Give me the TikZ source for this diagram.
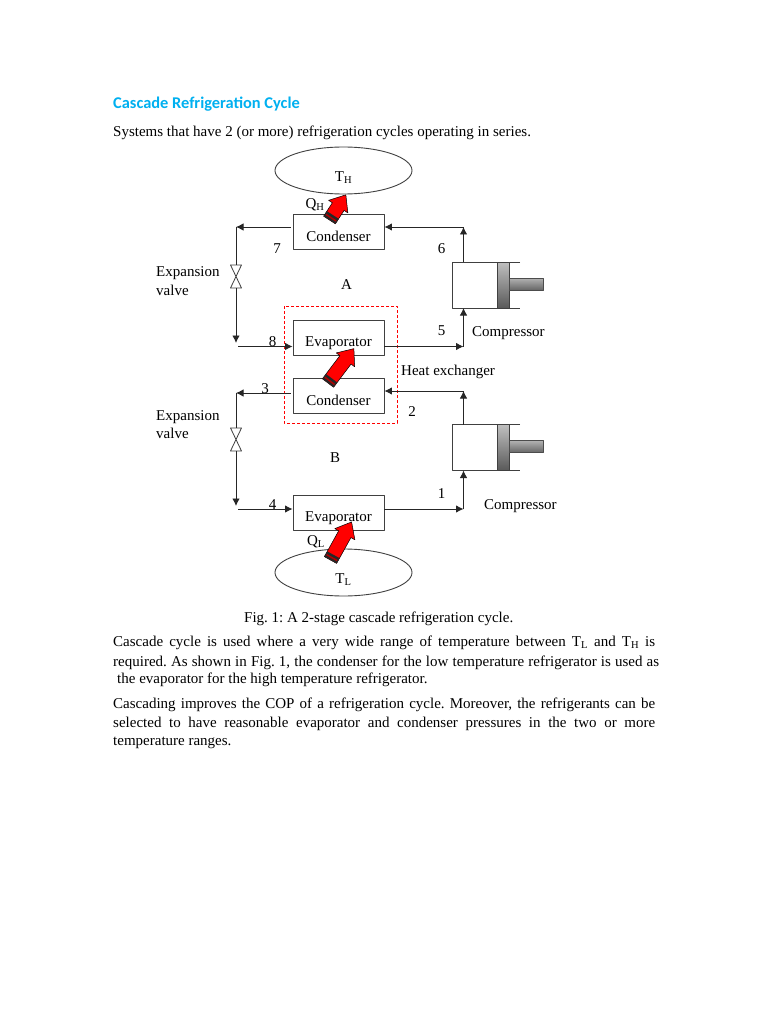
\documentclass[tikz,border=0pt]{standalone}
\usepackage{fontspec}
\usetikzlibrary{shapes.geometric, arrows.meta}
\setmainfont{Liberation Serif}
\newfontfamily\titlefont{Carlito}
\definecolor{titleblue}{HTML}{00B0F0}
\newcommand{\fitline}[2]{\hbox to #1pt{#2}}
\tikzset{
	bodyline/.style={anchor=base west, inner sep=0pt, font=\frenchspacing\fontsize{15}{18}\selectfont},
	lbl/.style={inner sep=0pt, font=\fontsize{15}{18}\selectfont},
	lblw/.style={lbl, anchor=base west},
	lblb/.style={lbl, anchor=base},
	unitbox/.style={draw=black!75, line width=0.9pt, minimum width=91pt, minimum height=35pt, inner sep=0pt},
	reservoir/.style={draw=black!75, line width=0.9pt, ellipse, minimum width=137pt, minimum height=47pt, inner sep=0pt},
	flow/.style={black!85, line width=0.9pt, -{Latex[length=7.5pt,width=7.5pt]}},
	pipe/.style={black!85, line width=0.9pt},
	pics/valve/.style={code={
		\draw[black!75, line width=0.8pt] (-5.5,-11.5) -- (5.5,-11.5) -- (-5.5,11.5) -- (5.5,11.5) -- cycle;
		\coordinate (-top) at (0,-11.5);
		\coordinate (-bottom) at (0,11.5);
	}},
	pics/compressor/.style={code={
		\draw[black!75, line width=0.9pt] (68,0) -- (0,0) -- (0,46) -- (68,46);
		\draw[black!75, line width=0.8pt, top color=black!25, bottom color=black!65] (45,0) rectangle (57,46);
		\draw[black!70, line width=0.8pt, top color=black!30, bottom color=black!60] (57,16) rectangle (91,28);
		\coordinate (-top) at (11.5,0);
		\coordinate (-bottom) at (11.5,46);
	}},
	pics/heatarrow/.style={code={
		\draw[black, line width=0.5pt, fill=red] (0,-7) -- (#1-14,-7) -- (#1-14,-11.5) -- (#1,0) -- (#1-14,11.5) -- (#1-14,7) -- (0,7) -- cycle;
		\fill[black!85] (0,-7) rectangle (6,7);
		\fill[red!70!black] (2,-6) rectangle (3.5,6);
	}},
}
\begin{document}
\begin{tikzpicture}[x=1pt, y=-1pt, line join=round, >=stealth]
	\useasboundingbox (0,0) rectangle (768,1024);
	\fill[white] (0,0) rectangle (768,1024);
	% page text
	\node[anchor=base west, inner sep=0pt, font=\titlefont\bfseries\fontsize{16.4}{19}\selectfont, text=titleblue] (title) at (113,108.5) {Cascade Refrigeration Cycle};
	\node[bodyline] (intro) at (113,137) {Systems that have 2 (or more) refrigeration cycles operating in series.};
	% reservoirs and units
	\node[reservoir] (hot) at (343.5,170.5) {};
	\node[reservoir] (cold) at (343.5,572.5) {};
	\node[unitbox] (condA) at (338.5,231.5) {};
	\node[unitbox] (evapA) at (338.5,337.5) {};
	\node[unitbox] (condB) at (338.5,395.5) {};
	\node[unitbox] (evapB) at (338.5,512.5) {};
	\draw[red, dashed, line width=0.7pt, dash pattern=on 3pt off 2pt] (284,306) rectangle (397,423);
	\pic (valveA) at (236,276.5) {valve};
	\pic (valveB) at (236,439.5) {valve};
	\pic (compA) at (452,262) {compressor};
	\pic (compB) at (452,424.5) {compressor};
	% free ends of the pipes
	\coordinate (leftA) at (236,227);
	\coordinate (dropA) at (236,343);
	\coordinate (feedA) at (238,346.5);
	\coordinate (leftB) at (236,393);
	\coordinate (dropB) at (236,506);
	\coordinate (feedB) at (238,509);
	\coordinate (outA) at (463.5,346.5);
	\coordinate (upA) at (463.5,227);
	\coordinate (outB) at (463.5,509);
	\coordinate (upB) at (463.5,391);
	% cycle A
	\draw[flow] (condA.west |- leftA) ++(-2,0) coordinate (startA) -- (leftA);
	\draw[pipe] (leftA) -- (valveA-top);
	\draw[flow] (valveA-bottom) -- (dropA);
	\draw[flow] (feedA) -- (evapA.west |- feedA);
	\draw[flow] (evapA.east |- outA) -- (outA);
	\draw[flow] (outA) -- (compA-bottom);
	\draw[flow] (compA-top) -- (upA);
	\draw[flow] (upA) -- (condA.east |- upA);
	% cycle B
	\draw[flow] (condB.west |- leftB) ++(-2,0) coordinate (startB) -- (leftB);
	\draw[pipe] (leftB) -- (valveB-top);
	\draw[flow] (valveB-bottom) -- (dropB);
	\draw[flow] (feedB) -- (evapB.west |- feedB);
	\draw[flow] (evapB.east |- outB) -- (outB);
	\draw[flow] (outB) -- (compB-bottom);
	\draw[flow] (compB-top) -- (upB);
	\draw[flow] (upB) -- (condB.east |- upB);
	% labels in the boxes
	\node[lblb] (condAtxt) at (338.5,241) {Condenser};
	\node[lblb] (evapAtxt) at (338.5,346.5) {Evaporator};
	\node[lblb] (condBtxt) at (338.5,405) {Condenser};
	\node[lblb] (evapBtxt) at (338.5,521) {Evaporator};
	% heat flow
	\pic[rotate=57] at (329.5,220) {heatarrow=30};
	\pic[rotate=53] at (328,383) {heatarrow=43};
	\pic[rotate=61] at (330.5,560) {heatarrow=43.5};
	\node[lbl] (th) at (343.5,178) {T\textsubscript{H}};
	\node[lbl] (tl) at (343.5,580) {T\textsubscript{L}};
	\node[lbl] (qh) at (315,205) {Q\textsubscript{H}};
	\node[lbl] (ql) at (316,542) {Q\textsubscript{L}};
	% numbers and names
	\node[lbl] (n7) at (277,249) {7};
	\node[lbl] (n6) at (441.5,249) {6};
	\node[lbl] (n8) at (272.5,342) {8};
	\node[lbl] (n5) at (441.5,331) {5};
	\node[lbl] (n3) at (265,389) {3};
	\node[lbl] (n2) at (412,412) {2};
	\node[lbl] (n4) at (272.5,505) {4};
	\node[lbl] (n1) at (441.5,494) {1};
	\node[lbl] (cycA) at (346.5,285) {A};
	\node[lbl] (cycB) at (335,458) {B};
	\node[lblw] (expA1) at (156,276) {Expansion};
	\node[lblw] (expA2) at (156,295) {valve};
	\node[lblw] (expB1) at (156,420) {Expansion};
	\node[lblw] (expB2) at (156,438) {valve};
	\node[lblw] (compAtxt) at (472,336) {Compressor};
	\node[lblw] (compBtxt) at (484,509) {Compressor};
	\node[lblw] (hx) at (401,375) {Heat exchanger};
	% caption and paragraphs
	\node[bodyline] (caption) at (244,622) {Fig. 1: A 2-stage cascade refrigeration cycle.};
	\node[bodyline] (p1) at (113,646) {\fitline{542}{Cascade cycle is used where a very wide range of temperature between T\textsubscript{L} and T\textsubscript{H} is}};
	\node[bodyline] (p2) at (113,666) {\fitline{546}{required. As shown in Fig. 1, the condenser for the low temperature refrigerator is used as}};
	\node[bodyline] (p3) at (117,683) {the evaporator for the high temperature refrigerator.};
	\node[bodyline] (p4) at (113,708) {\fitline{542}{Cascading improves the COP of a refrigeration cycle. Moreover, the refrigerants can be}};
	\node[bodyline] (p5) at (113,727) {\fitline{542}{selected to have reasonable evaporator and condenser pressures in the two or more}};
	\node[bodyline] (p6) at (113,745) {temperature ranges.};
\end{tikzpicture}
\end{document}
